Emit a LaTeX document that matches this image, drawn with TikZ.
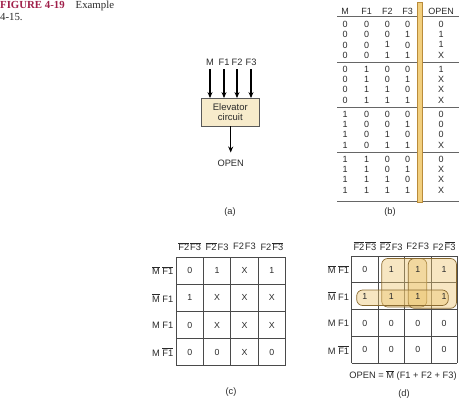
\documentclass[tikz,border=0pt]{standalone}
\usepackage{fontspec}
\setmainfont{Liberation Sans}
\newfontfamily\titlefont{Liberation Serif}
\usetikzlibrary{arrows.meta}
\newcommand{\ovl}[1]{$\overline{\hbox{#1}}$}
\definecolor{titlered}{HTML}{A0204A}
\definecolor{boxfill}{HTML}{F7EBCB}
\definecolor{bandfill}{HTML}{F2CF7E}
\definecolor{banddraw}{HTML}{B98B3A}
\definecolor{loopfill}{HTML}{EBC46E}
\definecolor{loopdraw}{HTML}{8A6A30}
\definecolor{gridc}{HTML}{4A4A4A}
\definecolor{txt}{HTML}{2A2A2A}
\begin{document}
\begin{tikzpicture}[x=1pt,y=-1pt,
  lbl/.style={inner sep=0pt, font=\fontsize{9.3}{10}\selectfont, text=txt},
  ttxt/.style={inner sep=0pt, font=\fontsize{9}{10}\selectfont, text=txt},
  ktxt/.style={inner sep=0pt, font=\fontsize{8.8}{10}\selectfont, text=txt},
  arr/.style={line width=1.3pt, -{Stealth[length=6pt,width=5pt]}, draw=black},
  kgrid/.style={draw=gridc, line width=0.8pt},
  tline/.style={draw=gray!80!black, line width=0.9pt},
  kloop/.style={draw=loopdraw, line width=0.7pt, rounded corners=6pt, fill=loopfill, fill opacity=0.42}
]
\useasboundingbox (0,0) rectangle (474,405);

% title
\node[anchor=north west, inner sep=0pt, align=left, font=\titlefont\fontsize{10.8}{11.5}\selectfont, text=txt] (title) at (0,1)
  {\textcolor{titlered}{\textbf{FIGURE 4-19}}\hspace{11pt}Example\\4-15.};

% ---------- (a) ----------
\node[draw=gray!70!black, fill=boxfill, line width=0.6pt, minimum width=57.3pt, minimum height=27.7pt, inner sep=0pt,
      align=center, font=\fontsize{9.5}{9.5}\selectfont, text=txt] (box) at (230.3,112.2) {Elevator\\circuit};
\foreach \n/\x/\t in {iM/210/M, iF1/224/F1, iF2/237/F2, iF3/251/F3}{
  \node[lbl] (\n) at (\x,62.3) {\t};
  \draw[arr] ([yshift=-3.5pt]\n.south) -- (\n |- box.north);
}
\node[lbl] (out) at (230.7,163.3) {OPEN};
\coordinate (outtop) at (230.7,152.5);
\draw[arr] (box.south -| outtop) -- (outtop);
\node[lbl] (capa) at (230,212) {(a)};

% ---------- (b) truth table ----------
\foreach \l/\y in {h1/16.5, h2/62, h3/107.2, h4/152.3, h5/201.5}{
  \coordinate (\l a) at (337,\y); \coordinate (\l b) at (459,\y);
  \draw[tline] (\l a) -- (\l b);
}
\node[draw=banddraw, fill=bandfill, line width=0.5pt, minimum width=5.4pt, minimum height=200pt, inner sep=0pt] (band) at (420,102.3) {};
\foreach \t/\x/\n in {M/345/hM, F1/366.7/hF1, F2/387.3/hF2, F3/407.7/hF3, OPEN/441/hO}{
  \node[ttxt] (\n) at (\x,11) {\t};
}
\foreach \m/\a/\b/\c/\o [count=\i from 0] in {
  0/0/0/0/0, 0/0/0/1/1, 0/0/1/0/1, 0/0/1/1/X,
  0/1/0/0/1, 0/1/0/1/X, 0/1/1/0/X, 0/1/1/1/X,
  1/0/0/0/0, 1/0/0/1/0, 1/0/1/0/0, 1/0/1/1/X,
  1/1/0/0/0, 1/1/0/1/X, 1/1/1/0/X, 1/1/1/1/X}{
  \pgfmathsetmacro{\yy}{24.3 + int(\i/4)*44.9 + mod(\i,4)*10.3}
  \node[ttxt] (tm\i) at (345,\yy) {\m};
  \node[ttxt] (ta\i) at (366.7,\yy) {\a};
  \node[ttxt] (tb\i) at (387.3,\yy) {\b};
  \node[ttxt] (tc\i) at (407.7,\yy) {\c};
  \node[ttxt] (to\i) at (441,\yy) {\o};
}
\node[lbl] (capb) at (390,212.3) {(b)};

% ---------- (c) K-map ----------
\def\cL{176}\def\cT{257}\def\cw{27.4}\def\ch{27.2}
\foreach \i in {0,...,4}{
  \draw[kgrid] (\cL+\i*\cw,\cT) -- (\cL+\i*\cw,\cT+4*\ch);
  \draw[kgrid] (\cL,\cT+\i*\ch) -- (\cL+4*\cw,\cT+\i*\ch);
}
\foreach \t [count=\j from 0] in {{\ovl{F2}\kern1pt\ovl{F3}},{\ovl{F2}\kern1pt F3},{F2\kern1pt F3},{F2\kern1pt\ovl{F3}}}{
  \node[lbl] (ch\j) at (\cL+\j*\cw+0.5*\cw,246.7) {\t};
}
\foreach \t [count=\j from 0] in {{\ovl{M} \ovl{F1}},{\ovl{M} F1},{M F1},{M \ovl{F1}}}{
  \node[lbl, anchor=east] (cr\j) at (173.5,\cT+\j*\ch+0.5*\ch) {\t};
}
\foreach \v [count=\i from 0] in {0,1,X,1, 1,X,X,X, 0,X,X,X, 0,0,X,0}{
  \pgfmathsetmacro{\xx}{\cL+mod(\i,4)*\cw+0.5*\cw}
  \pgfmathsetmacro{\yy}{\cT+int(\i/4)*\ch+0.5*\ch}
  \node[ktxt] (cv\i) at (\xx,\yy) {\v};
}
\node[lbl] (capc) at (231,392) {(c)};

% ---------- (d) K-map ----------
\def\dL{351.7}\def\dT{256}\def\dw{26.4}\def\dh{26.8}
\foreach \i in {0,...,4}{
  \draw[kgrid] (\dL+\i*\dw,\dT) -- (\dL+\i*\dw,\dT+4*\dh);
  \draw[kgrid] (\dL,\dT+\i*\dh) -- (\dL+4*\dw,\dT+\i*\dh);
}
% loops
\draw[kloop] (381.7,258.5) rectangle (426.8,307);
\draw[kloop] (408.3,258.5) rectangle (456.5,308.3);
\draw[kloop] (356.7,290) rectangle (448.3,305.5);
\foreach \t [count=\j from 0] in {{\ovl{F2}\kern1pt\ovl{F3}},{\ovl{F2}\kern1pt F3},{F2\kern1pt F3},{F2\kern1pt\ovl{F3}}}{
  \node[lbl] (dh\j) at (\dL+\j*\dw+0.5*\dw,246) {\t};
}
\foreach \t [count=\j from 0] in {{\ovl{M} \ovl{F1}},{\ovl{M} F1},{M F1},{M \ovl{F1}}}{
  \node[lbl, anchor=east] (dr\j) at (349.3,\dT+\j*\dh+0.5*\dh) {\t};
}
\foreach \v [count=\i from 0] in {0,1,1,1, 1,1,1,1, 0,0,0,0, 0,0,0,0}{
  \pgfmathsetmacro{\xx}{\dL+mod(\i,4)*\dw+0.5*\dw}
  \pgfmathsetmacro{\yy}{\dT+int(\i/4)*\dh+0.5*\dh}
  \node[ktxt] (dv\i) at (\xx,\yy) {\v};
}
\node[lbl] (eq) at (403,375.7) {OPEN = \ovl{M} (F1 + F2 + F3)};
\node[lbl] (capd) at (404,394) {(d)};
\end{tikzpicture}
\end{document}
